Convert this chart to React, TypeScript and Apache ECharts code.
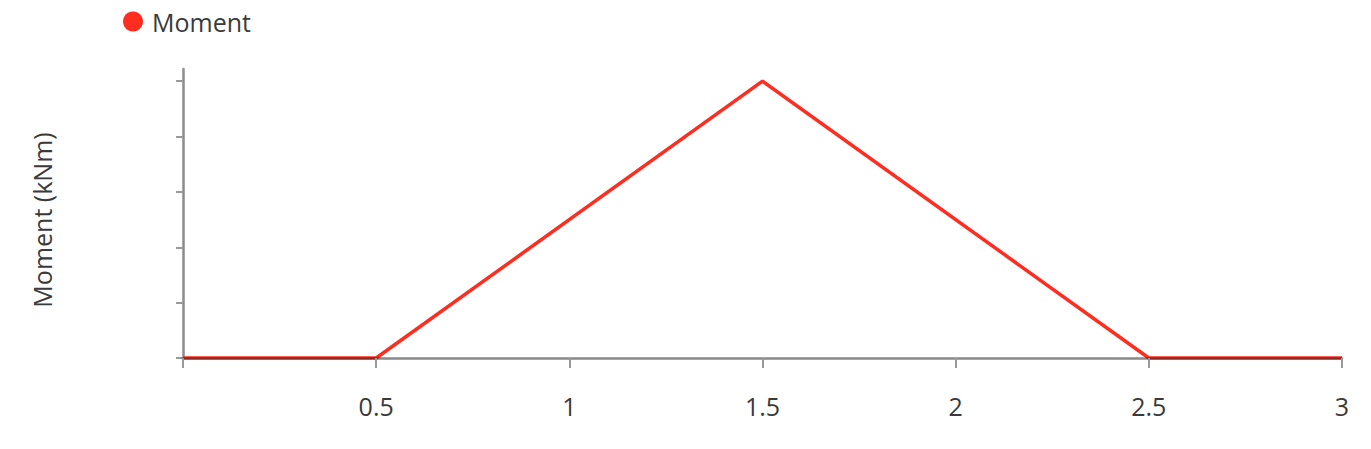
import React, { useEffect, useRef } from "react";
import * as echarts from "echarts";

const xValues = [0, 0.5, 1.5, 2.5, 3];
const momentValues = [0, 0, 5, 0, 0];
const yTickValues = [0, 1, 2, 3, 4, 5];
const seriesName = "Moment";
const yAxisTitle = "Moment (kNm)";

const RED = "#ff2d1f";
const FONT = "'Open Sans', 'Noto Sans', sans-serif";
const TEXT = "#3a3a3a";

export default function App() {
  const ref = useRef<HTMLDivElement>(null);
  useEffect(() => {
    if (!ref.current) return;
    const chart = echarts.init(ref.current, undefined, { renderer: "svg" });
    chart.setOption({
      animation: false,
      textStyle: { fontFamily: FONT },
      legend: {
        left: 118,
        top: 4,
        icon: "circle",
        itemWidth: 20,
        itemHeight: 20,
        data: [{ name: seriesName, itemStyle: { color: RED } }],
        textStyle: { fontSize: 25, color: TEXT, fontFamily: FONT, padding: [0, 0, 0, 4] },
      },
      grid: { left: 183, right: 29, top: 69, bottom: 91 },
      xAxis: {
        type: "value",
        min: 0,
        max: 3,
        interval: 0.5,
        z: 5,
        splitLine: { show: false },
        axisLine: { lineStyle: { color: "rgba(40,40,40,0.55)", width: 2.5 } },
        axisTick: { show: true, length: 10, lineStyle: { color: "#999", width: 2 } },
        axisLabel: {
          margin: 35,
          fontSize: 25,
          color: TEXT,
          fontFamily: FONT,
          formatter: (v: number) => (v === 0 ? "" : String(v)),
        },
      },
      yAxis: {
        type: "value",
        min: 0,
        max: 5.22,
        name: yAxisTitle,
        nameLocation: "middle",
        nameGap: 129,
        nameTextStyle: { fontSize: 25, color: TEXT, fontFamily: FONT, padding: [0, 13, 0, 0] },
        splitLine: { show: false },
        axisLine: { show: true, lineStyle: { color: "#8c8c8c", width: 2.5 } },
        axisTick: {
          show: true,
          length: 7,
          customValues: yTickValues,
          lineStyle: { color: "#999", width: 2 },
        },
        axisLabel: { show: false },
      },
      series: [
        {
          name: seriesName,
          type: "line",
          data: xValues.map((x, i) => [x, momentValues[i]]),
          symbol: "none",
          color: RED,
          lineStyle: { color: RED, width: 3.5 },
          z: 2,
        },
      ],
    });
    return () => chart.dispose();
  }, []);
  return (
    <div
      ref={ref}
      style={{ position: "fixed", left: 0, top: 0, width: 1371, height: 449, background: "#fff" }}
    />
  );
}
